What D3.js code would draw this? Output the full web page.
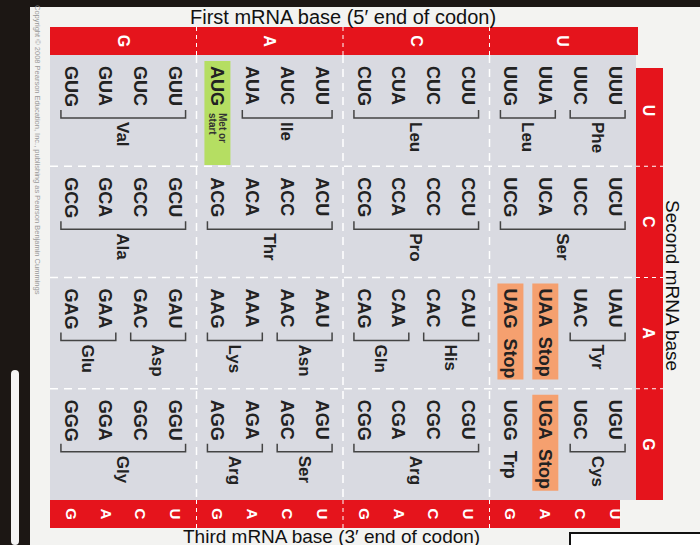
<!DOCTYPE html>
<html>
<head>
<meta charset="utf-8">
<script src="https://cdn.jsdelivr.net/npm/d3@7"></script>
<style>
body { margin: 0; background: #f3f3f1; }
text { font-family: "Liberation Sans", Arial, sans-serif; }
</style>
</head>
<body>
<svg id="chart" width="700" height="545"></svg>
<script>
// bases, in table order
var bases = ["U", "C", "A", "G"];
// amino acid for each codon, first base -> second base -> third base
var aminoAcids = [
  "Phe","Phe","Leu","Leu", "Ser","Ser","Ser","Ser", "Tyr","Tyr","Stop","Stop", "Cys","Cys","Stop","Trp",
  "Leu","Leu","Leu","Leu", "Pro","Pro","Pro","Pro", "His","His","Gln","Gln", "Arg","Arg","Arg","Arg",
  "Ile","Ile","Ile","Met", "Thr","Thr","Thr","Thr", "Asn","Asn","Lys","Lys", "Ser","Ser","Arg","Arg",
  "Val","Val","Val","Val", "Ala","Ala","Ala","Ala", "Asp","Asp","Glu","Glu", "Gly","Gly","Gly","Gly"
];
// codons shown on their own (no bracket)
var singles = ["Stop", "Trp", "Met"];

var svg = d3.select("#chart");
var red = "#e5141c";

// left dark edge of the photo
svg.append("rect").attr("x", 0).attr("y", 0).attr("width", 30).attr("height", 545).attr("fill", "#1c1714");
svg.append("rect").attr("x", 11).attr("y", 370).attr("width", 8).attr("height", 175).attr("rx", 4).attr("fill", "#f4f4f4");
svg.append("rect").attr("x", 30).attr("y", 0).attr("width", 670).attr("height", 7).attr("fill", "#1c1714");

// first base -> screen columns (rotated table: U on the right)
var x = d3.scaleBand().domain(bases.slice().reverse()).range([50, 636]);
// second base -> screen rows
var y = d3.scaleBand().domain(bases).range([55, 500]);
// third base -> position inside a column
var x3 = d3.scaleBand().domain(bases.slice().reverse()).range([0, x.bandwidth()]).paddingOuter(0.1);

svg.append("rect").attr("x", 50).attr("y", 55).attr("width", 586).attr("height", 445).attr("fill", "#d9dae1");

// dashed dividers in body
bases.slice(1).forEach(function(b) {
  svg.append("line").attr("x1", x(b) + x.bandwidth()).attr("x2", x(b) + x.bandwidth())
    .attr("y1", 55).attr("y2", 500).attr("stroke", "#fff").attr("stroke-width", 1.5).attr("stroke-dasharray", "8,6");
  svg.append("line").attr("y1", y(b)).attr("y2", y(b)).attr("x1", 50).attr("x2", 636)
    .attr("stroke", "#fff").attr("stroke-width", 1.5).attr("stroke-dasharray", "8,6");
});

// red bars
svg.append("rect").attr("x", 50).attr("y", 27).attr("width", 588).attr("height", 28).attr("fill", red);
svg.append("rect").attr("x", 636).attr("y", 68).attr("width", 27).attr("height", 432).attr("fill", red);
svg.append("rect").attr("x", 50).attr("y", 500).attr("width", 570).attr("height", 28).attr("fill", red);

function rot(sel, tx, ty) {
  return sel.attr("transform", "translate(" + tx + "," + ty + ") rotate(90)");
}

bases.forEach(function(b) {
  rot(svg.append("text"), x(b) + x.bandwidth() / 2, 41).text(b)
    .attr("text-anchor", "middle").attr("dy", "0.35em").attr("fill", "#fff")
    .style("font-size", "16px").style("font-weight", "bold");
  rot(svg.append("text"), 649, y(b) + y.bandwidth() / 2).text(b)
    .attr("text-anchor", "middle").attr("dy", "0.35em").attr("fill", "#fff")
    .style("font-size", "16px").style("font-weight", "bold");
  bases.forEach(function(t) {
    rot(svg.append("text"), x(b) + x3(t) + x3.bandwidth() / 2, 514).text(t)
      .attr("text-anchor", "middle").attr("dy", "0.35em").attr("fill", "#fff")
      .style("font-size", "15px").style("font-weight", "bold");
  });
  if (b !== "U") {
    svg.append("line").attr("x1", x(b) + x.bandwidth()).attr("x2", x(b) + x.bandwidth()).attr("y1", 27).attr("y2", 55)
      .attr("stroke", "#fff").attr("stroke-dasharray", "4,4");
    svg.append("line").attr("x1", x(b) + x.bandwidth()).attr("x2", x(b) + x.bandwidth()).attr("y1", 500).attr("y2", 528)
      .attr("stroke", "#fff").attr("stroke-dasharray", "4,4");
    svg.append("line").attr("y1", y(b)).attr("y2", y(b)).attr("x1", 636).attr("x2", 663)
      .attr("stroke", "#fff").attr("stroke-dasharray", "4,4");
  }
});

// cells
bases.forEach(function(f, fi) {
  bases.forEach(function(s, si) {
    var cx = x(f), cy = y(s);
    var aa = bases.map(function(t, ti) { return aminoAcids[fi * 16 + si * 4 + ti]; });
    // highlight boxes
    bases.forEach(function(t, ti) {
      var px = cx + x3(t) + x3.bandwidth() / 2;
      if (aa[ti] === "Stop") {
        svg.append("rect").attr("x", px - 13).attr("y", cy + 6).attr("width", 26).attr("height", 96).attr("fill", "#f5a06f");
      } else if (aa[ti] === "Met") {
        svg.append("rect").attr("x", px - 13).attr("y", cy + 6).attr("width", 26).attr("height", 104).attr("fill", "#b5de62");
      }
    });
    // codons
    bases.forEach(function(t, ti) {
      var px = cx + x3(t) + x3.bandwidth() / 2;
      var label = (aa[ti] === "Stop" || aa[ti] === "Trp") ? "  " + aa[ti] : "";
      rot(svg.append("text"), px, cy + 11).text(f + s + t + label)
        .attr("dy", "0.35em").attr("fill", "#222").attr("xml:space", "preserve")
        .style("font-size", "18px").style("font-weight", "bold");
      if (aa[ti] === "Met") {
        rot(svg.append("text"), px + 5, cy + 58).text("Met or").attr("dy", "0.35em")
          .style("font-size", "10px").style("font-weight", "bold").attr("fill", "#333");
        rot(svg.append("text"), px - 5, cy + 58).text("start").attr("dy", "0.35em")
          .style("font-size", "10px").style("font-weight", "bold").attr("fill", "#333");
      }
    });
    // groups of consecutive codons with the same amino acid
    var i = 0;
    while (i < 4) {
      var j = i;
      if (singles.indexOf(aa[i]) < 0) {
        while (j + 1 < 4 && aa[j + 1] === aa[i]) j++;
      }
      if (j > i) {
        var xa = cx + x3(bases[i]) + x3.bandwidth() / 2 + 10;
        var xb = cx + x3(bases[j]) + x3.bandwidth() / 2 - 10;
        var by = cy + 63;
        svg.append("path").attr("d", "M" + xa + "," + (by - 8) + "V" + by + "H" + xb + "V" + (by - 8))
          .attr("fill", "none").attr("stroke", "#444").attr("stroke-width", 1.5);
        rot(svg.append("text"), (xa + xb) / 2, by + 4).text(aa[i])
          .attr("dy", "0.35em").attr("fill", "#222")
          .style("font-size", "17px").style("font-weight", "bold");
      }
      i = j + 1;
    }
  });
});

// titles
svg.append("text").attr("x", 190).attr("y", 24).text("First mRNA base (5\u2032 end of codon)")
  .style("font-size", "20px").attr("fill", "#111");
rot(svg.append("text"), 673, 200).text("Second mRNA base").attr("dy", "0.35em")
  .style("font-size", "19px").attr("fill", "#111");
svg.append("text").attr("x", 183).attr("y", 543).text("Third mRNA base (3\u2032 end of codon)")
  .style("font-size", "19px").attr("fill", "#111");
rot(svg.append("text"), 38, 5).text("Copyright \u00a9 2008 Pearson Education, Inc., publishing as Pearson Benjamin Cummings")
  .attr("dy", "0.35em").style("font-size", "7.5px").attr("fill", "#999");

// box at bottom right of the photo
svg.append("rect").attr("x", 570).attr("y", 533).attr("width", 140).attr("height", 20)
  .attr("fill", "#fff").attr("stroke", "#111").attr("stroke-width", 2);
</script>
</body>
</html>
